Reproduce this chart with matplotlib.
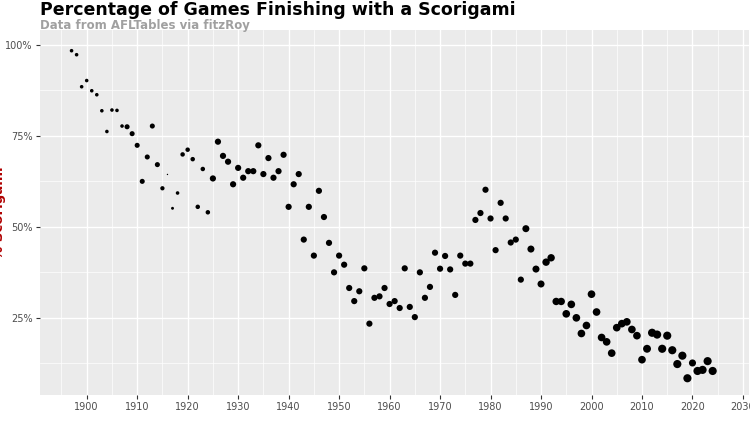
import numpy as np
import matplotlib.pyplot as plt

years = np.arange(1897, 2025)
pct = [98.4, 97.3, 88.5, 90.2, 87.4, 86.3, 81.9, 76.2, 82.1, 82.0,
       77.7, 77.5, 75.6, 72.4, 62.5, 69.2, 77.7, 67.1, 60.6, 64.4,
       55.1, 59.3, 69.9, 71.2, 68.6, 55.5, 65.9, 54.0, 63.3, 73.4,
       69.5, 67.9, 61.7, 66.2, 63.5, 65.3, 65.3, 72.4, 64.5, 68.9,
       63.5, 65.3, 69.8, 55.5, 61.7, 64.5, 46.5, 55.5, 42.1, 59.9,
       52.7, 45.6, 37.5, 42.1, 39.6, 33.2, 29.6, 32.3, 38.6, 23.4,
       30.5, 30.9, 33.2, 28.8, 29.6, 27.7, 38.6, 28.0, 25.2, 37.5,
       30.5, 33.5, 42.9, 38.5, 42.0, 38.3, 31.3, 42.1, 39.9, 39.9,
       51.9, 53.8, 60.2, 52.3, 43.6, 56.6, 52.3, 45.7, 46.5, 35.5,
       49.5, 43.9, 38.4, 34.3, 40.3, 41.5, 29.5, 29.5, 26.1, 28.7,
       25.0, 20.7, 22.9, 31.5, 26.6, 19.6, 18.4, 15.3, 22.3, 23.4,
       23.9, 21.8, 20.1, 13.5, 16.5, 20.9, 20.4, 16.5, 20.1, 16.1,
       12.3, 14.6, 8.4, 12.6, 10.4, 10.7, 13.1, 10.4]

# approximate games per season (drives point size)
games = ([60] * 11 + [95] * 7 + [75, 30, 48, 60] + [80] * 6 + [130] * 62
         + [160] * 4 + [175] * 4 + [185] * 16 + [196] + [207] * 8 + [162] + [207] * 4)

fig, ax = plt.subplots(figsize=(7.5, 4.22), dpi=100)
fig.subplots_adjust(left=0.053, right=0.998, top=0.929, bottom=0.064)
ax.set_facecolor('#ebebeb')

ax.scatter(years, pct, s=0.19 * (np.array(games) - 25), color='black', zorder=3, linewidths=0)

ax.set_xlim(1890.7, 2031.1)
ax.set_ylim(3.8, 104.1)
ax.set_xticks(np.arange(1900, 2031, 10))
ax.set_xticks(np.arange(1895, 2031, 5), minor=True)
ax.set_yticks([25, 50, 75, 100])
ax.set_yticklabels(['25%', '50%', '75%', '100%'])
ax.set_yticks([12.5, 37.5, 62.5, 87.5], minor=True)
ax.grid(which='major', color='white', linewidth=1.0)
ax.grid(which='minor', color='white', linewidth=0.5)
ax.set_axisbelow(True)
for sp in ax.spines.values():
    sp.set_visible(False)
ax.tick_params(which='both', length=3, color='#333333', labelsize=7, labelcolor='#4d4d4d', pad=2)
ax.tick_params(which='minor', length=0)

ax.set_ylabel('% Scorigami', color='#b00000', fontweight='bold', fontsize=9.5)
ax.yaxis.set_label_coords(-0.048, 0.5)
fig.text(0.053, 0.998, 'Percentage of Games Finishing with a Scorigami',
         fontsize=12.5, fontweight='bold', va='top')
fig.text(0.053, 0.955, 'Data from AFLTables via fitzRoy', fontsize=8.5,
         fontweight='bold', color='#a0a0a0', va='top')

fig.savefig('out.png')
